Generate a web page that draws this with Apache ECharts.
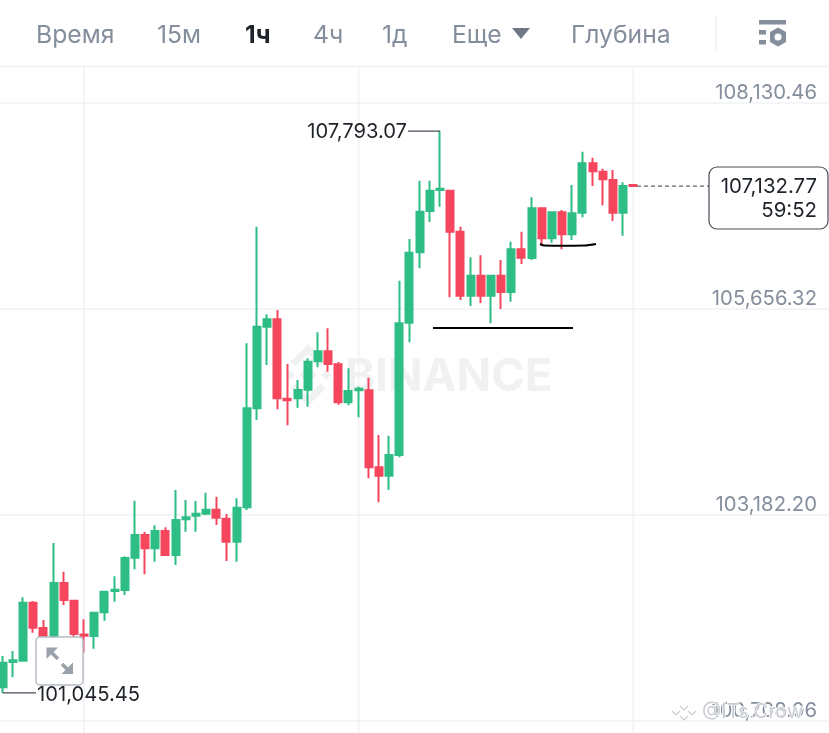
<!DOCTYPE html>
<html>
<head>
<meta charset="utf-8">
<style>
  html, body { margin: 0; padding: 0; background: #fff; }
  #main { width: 829px; height: 733px; }
</style>
<script src="https://cdn.jsdelivr.net/npm/echarts@6/dist/echarts.min.js"></script>
</head>
<body>
<div id="main"></div>
<script>
// hourly candles
var opens = [101113,101417,101432,102129,101825,101669,102366,102153,101747,101729,102014,102270,102282,102669,102942,102782,102990,102702,103131,103174,103198,103246,103138,102862,103275,104464,105444,105533,104579,104584,104687,105028,105148,104992,104536,104680,104680,103755,103654,103903,105492,106337,106833,107086,107077,106585,105816,106056,105816,106056,105861,106373,106269,106866,106505,106818,106554,106813,107406,107305,107206,106813,107145];
var closes = [101408,101437,102129,101829,101681,102366,102161,101753,101733,102009,102261,102285,102666,102942,102782,102990,102702,103122,103155,103198,103246,103150,102862,103270,104464,105444,105533,104584,104560,104684,105023,105148,104996,104536,104672,104699,103755,103654,103903,105485,106333,106825,107077,107101,106585,105816,106056,105816,106056,105861,106373,106272,106866,106505,106818,106554,106806,107406,107310,107214,106813,107134,107132.77];
var lows = [101045.45,101233,101420,101769,101609,101585,102101,101681,101529,101577,101913,102141,102222,102530,102470,102621,102702,102582,102982,102982,103182,103062,102630,102621,103242,104323,104984,104452,104260,104471,104483,104956,104903,104507,104500,104356,103623,103335,103483,103875,105256,106145,106701,106885,105797,105764,105692,105725,105485,105656,105744,106197,106245,106437,106453,106373,106485,106758,107134,106902,106713,106537,107125];
var highs = [101489,101549,102194,102149,101921,102846,102501,102161,101930,102017,102270,102446,102686,103354,102982,103059,103035,103483,103362,103350,103450,103402,103194,103383,105244,106645,105593,105644,104996,104804,105064,105377,105425,105020,104944,104723,104831,104143,104135,105996,106497,107197,107197,107793.07,107077,106645,106277,106301,106056,106245,106465,106585,106998,106866,106825,106845,107146,107546,107474,107341,107326,107178,107150];
var yTicks = [108130.46, 105656.32, 103182.20, 100708.06];
var tabs = ['Время', '15м', '1ч', '4ч', '1д', 'Еще', 'Глубина'];
var tabX = [36, 157, 245, 313, 382, 452, 571];
var gridCandles = [8, 35, 62];
var lastPrice = 107132.77;
var countdown = '59:52';
var highIndex = 43, lowIndex = 0;

var UP = '#2EBD85', DOWN = '#F6465D', GREY = '#848E9C', INK = '#1E2329', LINE = '#F1F2F4';
var FONT = 'Inter, "Noto Sans", sans-serif';

var candles = opens.map(function (o, i) { return [i, o, closes[i], lows[i], highs[i]]; });

function fmt(v) {
  return v.toLocaleString('en-US', { minimumFractionDigits: 2, maximumFractionDigits: 2 });
}

var chart = echarts.init(document.getElementById('main'), null, { renderer: 'canvas' });
chart.setOption({
  animation: false,
  backgroundColor: '#fff',
  textStyle: { fontFamily: FONT },
  grid: { left: 0, top: 67, right: 0, bottom: 0 },
  xAxis: {
    type: 'value', min: -0.2655, max: 81.25,
    axisLine: { show: false }, axisTick: { show: false }, axisLabel: { show: false }, splitLine: { show: false }
  },
  yAxis: {
    type: 'value', position: 'right', scale: true,
    min: 100564.16, max: 108562.82,
    axisLine: { show: false },
    axisTick: { show: false, customValues: yTicks },
    axisLabel: {
      inside: true, customValues: yTicks, margin: 12,
      color: GREY, fontSize: 20.3, fontFamily: FONT,
      verticalAlign: 'bottom',
      formatter: function (v) { return fmt(v); }
    },
    splitLine: { show: true, lineStyle: { color: LINE, width: 1.5 } }
  },
  series: [{
    type: 'candlestick',
    data: candles,
    encode: { x: 0, y: [1, 2, 3, 4] },
    barWidth: 7.5,
    clip: false,
    itemStyle: { color: UP, color0: DOWN, borderColor: UP, borderColor0: DOWN, borderWidth: 2 }
  }]
});

function drawOverlay() {
  var px = function (i) { return chart.convertToPixel({ xAxisIndex: 0 }, i); };
  var py = function (v) { return chart.convertToPixel({ yAxisIndex: 0 }, v); };
  var els = [];
  var line = function (x1, y1, x2, y2, color, width, z, dash) {
    els.push({ type: 'line', z: z, silent: true, shape: { x1: x1, y1: y1, x2: x2, y2: y2 },
      style: { stroke: color, lineWidth: width, lineDash: dash || null } });
  };
  var text = function (s, x, y, size, color, align, z, weight, halo) {
    var style = { text: s, fontSize: size, fill: color, align: align || 'left', verticalAlign: 'middle',
      fontFamily: FONT, fontWeight: weight || 'normal' };
    if (halo) { style.stroke = '#fff'; style.lineWidth = halo; }
    els.push({ type: 'text', z: z, silent: true, x: x, y: y, style: style });
  };

  // header
  tabs.forEach(function (t, i) {
    text(t, tabX[i], 36, 24.7, t === '1ч' ? INK : GREY, 'left', 20, t === '1ч' ? 'bold' : 'normal');
  });
  els.push({ type: 'polygon', z: 20, silent: true, shape: { points: [[512, 28], [530, 28], [521, 39]] }, style: { fill: '#6F7785' } });
  line(0, 66.5, 829, 66.5, LINE, 1.5, 20);
  line(716, 16, 716, 50, LINE, 1.5, 20);
  els.push({ type: 'rect', z: 20, silent: true, shape: { x: 759, y: 20, width: 27, height: 4.5 }, style: { fill: GREY } });
  els.push({ type: 'rect', z: 20, silent: true, shape: { x: 759, y: 30, width: 7, height: 4.5 }, style: { fill: GREY } });
  els.push({ type: 'rect', z: 20, silent: true, shape: { x: 759, y: 40, width: 7, height: 4.5 }, style: { fill: GREY } });
  els.push({ type: 'polygon', z: 20, silent: true, shape: { points: [[778, 27.5], [786, 32], [786, 42], [778, 46.5], [770, 42], [770, 32]] }, style: { fill: GREY } });
  els.push({ type: 'circle', z: 20, silent: true, shape: { cx: 778, cy: 37, r: 3.5 }, style: { fill: '#fff' } });

  // vertical grid lines sit on every 27th candle
  gridCandles.forEach(function (c) { line(px(c), 67, px(c), 733, LINE, 1.5, 0); });

  // BINANCE watermark
  var wm = '#F0F1F2';
  [[308, 375, 9], [290, 375, 5], [326, 375, 5]].forEach(function (d) {
    els.push({ type: 'polygon', z: 1, silent: true,
      shape: { points: [[d[0], d[1] - d[2]], [d[0] + d[2], d[1]], [d[0], d[1] + d[2]], [d[0] - d[2], d[1]]] }, style: { fill: wm } });
  });
  els.push({ type: 'polyline', z: 1, silent: true, shape: { points: [[293, 364], [308, 349], [323, 364]] }, style: { stroke: wm, lineWidth: 7, fill: null } });
  els.push({ type: 'polyline', z: 1, silent: true, shape: { points: [[293, 386], [308, 401], [323, 386]] }, style: { stroke: wm, lineWidth: 7, fill: null } });
  text('BINANCE', 345, 377, 45.5, wm, 'left', 1, 'bold');

  // high and low callouts
  var hx = px(highIndex), hy = py(highs[highIndex]);
  line(408, hy, hx, hy, '#474D57', 1.2, 10);
  text(fmt(highs[highIndex]), 407, hy + 1, 20.2, INK, 'right', 10);
  var lx = px(lowIndex), ly = py(lows[lowIndex]);
  line(lx, ly, 36, ly, '#474D57', 1.2, 10);
  text(fmt(lows[lowIndex]), 37, ly + 2, 20.2, INK, 'left', 12);

  // last price box
  var ty = py(lastPrice);
  line(637, ty, 709, ty, '#5E6673', 1.2, 10, [4, 3]);
  els.push({ type: 'rect', z: 10, silent: true, shape: { x: 709, y: 167, width: 119, height: 62, r: 8 },
    style: { fill: '#fff', stroke: '#474D57', lineWidth: 1.2 } });
  text(fmt(lastPrice), 817, 187, 20.4, INK, 'right', 11);
  text(countdown, 817, 211, 20.4, INK, 'right', 11);

  // hand drawn support lines
  line(433, 328, 573, 328, '#000', 2, 10);
  els.push({ type: 'polyline', z: 10, silent: true,
    shape: { points: [[540, 244], [544, 245.5], [585, 245.5], [596, 244]], smooth: 0.3 },
    style: { stroke: '#000', lineWidth: 2, fill: null } });

  // expand button
  els.push({ type: 'rect', z: 12, silent: true, shape: { x: 36, y: 637, width: 47, height: 48, r: 4 },
    style: { fill: '#fff', stroke: '#B7BDC6', lineWidth: 1.5 } });
  var arrow = '#9AA1AB';
  line(50, 651, 58, 659, arrow, 3.5, 13);
  line(62, 664, 69, 671, arrow, 3.5, 13);
  els.push({ type: 'polygon', z: 13, silent: true, shape: { points: [[46.5, 647.5], [58, 647.5], [46.5, 659]] }, style: { fill: arrow } });
  els.push({ type: 'polygon', z: 13, silent: true, shape: { points: [[73, 674], [61.5, 674], [73, 662.5]] }, style: { fill: arrow } });

  // author stamp at the bottom right, washes out the lowest axis label
  var stamp = '#C9CDD2';
  [[684, 706, 4], [676, 711, 4], [692, 711, 4], [684, 716, 4]].forEach(function (d) {
    els.push({ type: 'polyline', z: 14, silent: true,
      shape: { points: [[d[0] - d[2], d[1]], [d[0], d[1] + d[2]], [d[0] + d[2], d[1]]] },
      style: { stroke: stamp, lineWidth: 1.2, fill: null } });
  });
  text('@ITs.Crow', 702, 712, 20, stamp, 'left', 14, 'normal', 1.5);

  chart.setOption({ graphic: { elements: els } });
}
drawOverlay();
</script>
</body>
</html>
